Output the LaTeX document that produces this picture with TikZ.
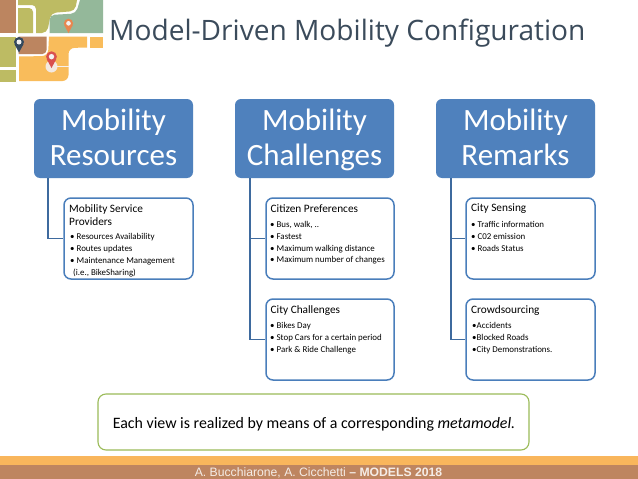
\documentclass[tikz,border=0pt]{standalone}
\usepackage{fontspec}
\setmainfont{Carlito}
\newfontfamily\titlefont{Open Sans}
\newfontfamily\footfont{Liberation Sans}
\definecolor{blueA}{HTML}{4F81BD}
\definecolor{blueB}{HTML}{4A7EBB}
\definecolor{lineB}{HTML}{3E6A9E}
\definecolor{greenB}{HTML}{9BBB59}
\definecolor{titleC}{HTML}{3B4B5B}
\definecolor{mapBrown}{HTML}{BC8560}
\definecolor{mapOlive}{HTML}{BDBB63}
\definecolor{mapGreen}{HTML}{94B89A}
\definecolor{mapOrange}{HTML}{F9BC5B}
\definecolor{pinO}{HTML}{E8864F}
\definecolor{pinR}{HTML}{D9504F}
\definecolor{pinB}{HTML}{34495E}
\definecolor{bandO}{HTML}{F9B65C}
\definecolor{bandB}{HTML}{BE8560}
\tikzset{
  x=1pt,y=-1pt,
  headbox/.style={fill=blueA,draw=none,rounded corners=6pt,inner sep=0pt,minimum width=159pt,minimum height=79pt},
  headtext/.style={text=white,font=\fontsize{31}{35}\selectfont,align=center,inner sep=0pt},
  childbox/.style={fill=white,draw=blueB,line width=1.5pt,rounded corners=7pt,inner sep=0pt,minimum height=81pt},
  childtext/.style={anchor=north west,align=left,inner sep=0pt,text=black},
  subtitle/.style={font=\fontsize{11.3}{13.2}\selectfont},
  bul/.style={font=\fontsize{8.9}{11.6}\selectfont},
  trunk/.style={draw=lineB,line width=1.5pt}
}
\newcommand{\mappin}[4]{% x, tip y, colour, radius
  \pgfmathsetmacro{\pinc}{#2-#4*2.1}
  \fill[#3] (#1,\pinc) circle[radius=#4];
  \fill[#3] (#1-#4*0.92,\pinc+#4*0.4) -- (#1,#2) -- (#1+#4*0.92,\pinc+#4*0.4) -- cycle;
  \fill[white!90!gray] (#1,\pinc) circle[radius=#4*0.5];
}
\begin{document}
\begin{tikzpicture}
\useasboundingbox (0,0) rectangle (638,479);
\fill[white] (0,0) rectangle (638,479);
% map
\fill[mapBrown] (0,0) rectangle (16,33);
\fill[mapOlive] (18,8) [rounded corners=4pt] -- (33,8) [sharp corners] -- (33,33) -- (18,33) -- cycle;
\fill[mapOlive] (18,0) -- (77,0) [rounded corners=5pt] -- (75,11) -- (51,13) -- (47,33) [sharp corners] -- (36,33) [rounded corners=4pt] -- (36,5) [sharp corners] -- (18,5) -- cycle;
\fill[mapGreen] (80,0) -- (103,0) -- (103,33) -- (49.5,33) [rounded corners=5pt] -- (49.5,15) -- (76,13.5) [sharp corners] -- cycle;
\fill[mapOlive] (0,36.5) rectangle (16,67);
\fill[mapOlive] (0,69.5) -- (16,69.5) -- (16,81.5) -- (0,81.5) -- cycle;
\fill[mapBrown] (18.5,36.5) -- (46.5,36.5) [rounded corners=4pt] -- (46.5,54) [sharp corners] -- (18.5,54) -- cycle;
\fill[mapOrange] (49,36.5) -- (87,36.5) -- (87,47.5) [rounded corners=6pt] -- (68.5,48) -- (68.5,81) [sharp corners] -- (19,81) -- (19,56.5) [rounded corners=6pt] -- (48,56) [sharp corners] -- cycle;
\fill[mapOrange] (89.5,36.5) rectangle (103,47.5);
\fill[white!82!mapBrown] (51.5,66.5) circle[radius=6];
\draw[white!88!mapBrown,line width=1.2pt] (56,66.5) -- (68.5,66.5);
\mappin{68.5}{33}{pinO}{4.6}
\mappin{19}{52.5}{pinB}{5}
\mappin{51.5}{68}{pinR}{5.4}
% title
\node[anchor=west,inner sep=0pt,text=titleC,font=\titlefont\fontsize{28.1}{32}\selectfont] (title) at (109,33) {Model-Driven Mobility Configuration};
% heads
\node[headbox] (h1) at (113.5,138.5) {};
\node[headbox] (h2) at (314.5,138.5) {};
\node[headbox] (h3) at (515.5,138.5) {};
\node[headtext] (h1t) at (113.5,140.5) {\strut Mobility\\\strut Resources};
\node[headtext] (h2t) at (314.5,140.5) {\strut Mobility\\\strut Challenges};
\node[headtext] (h3t) at (515.5,140.5) {\strut Mobility\\\strut Remarks};
% child boxes
\node[childbox,minimum width=129pt] (c1) at (128.5,238.5) {};
\node[childbox,minimum width=128pt] (c2) at (330,238.5) {};
\node[childbox,minimum width=128pt] (c3) at (330,339.5) {};
\node[childbox,minimum width=129pt] (c4) at (530.5,238.5) {};
\node[childbox,minimum width=129pt] (c5) at (530.5,339.5) {};
% connectors
\coordinate (t1) at (48,178);
\coordinate (t2) at (250,178);
\coordinate (t3) at (451,178);
\draw[trunk] (t1) |- (c1.west);
\draw[trunk] (t2) |- (c3.west);
\draw[trunk] (t2 |- c2.west) -- (c2.west);
\draw[trunk] (t3) |- (c5.west);
\draw[trunk] (t3 |- c4.west) -- (c4.west);
% texts
\node[childtext,subtitle,align=left] (c1a) at (69,204) {Mobility Service\\Providers};
\node[childtext,bul] (c1b) at (70,233.5) {• Resources Availability\\[0.4pt]• Routes updates\\[0.4pt]• Maintenance Management\\\hspace{3pt}(i.e., BikeSharing)};
\node[childtext,subtitle] (c2a) at (270.5,204) {Citizen Preferences};
\node[childtext,bul] (c2b) at (270,221.5) {• Bus, walk, ..\\• Fastest\\• Maximum walking distance\\• Maximum number of changes};
\node[childtext,subtitle] (c3a) at (270.5,305) {City Challenges};
\node[childtext,bul] (c3b) at (270,322.5) {• Bikes Day\\• Stop Cars for a certain period\\• Park \& Ride Challenge};
\node[childtext,subtitle] (c4a) at (471,204) {City Sensing};
\node[childtext,bul] (c4b) at (471,221.5) {• Traffic information\\• C02 emission\\• Roads Status};
\node[childtext,subtitle] (c5a) at (471,305) {Crowdsourcing};
\node[childtext,bul] (c5b) at (472,322.5) {•Accidents\\•Blocked Roads\\•City Demonstrations.};
% note
\node[draw=greenB,fill=white,line width=1.1pt,rounded corners=8pt,minimum width=431pt,minimum height=56pt,inner sep=0pt] (note) at (313.5,422) {};
\node[inner sep=0pt,font=\fontsize{15.9}{18}\selectfont,text=black] (notetext) at (314,424) {Each view is realized by means of a corresponding \textit{metamodel.}};
% footer
\fill[bandO] (0,456) rectangle (638,465);
\fill[bandB] (0,465) rectangle (638,479);
\node[inner sep=0pt,text=white!85!bandB,font=\footfont\fontsize{12.2}{13}\selectfont] (foot) at (318.5,472.5) {A. Bucchiarone, A. Cicchetti \textbf{– MODELS 2018}};
\end{tikzpicture}
\end{document}
